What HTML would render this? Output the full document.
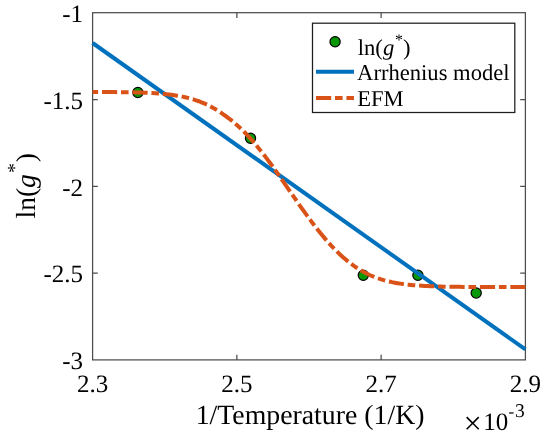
<!DOCTYPE html>
<html><head><meta charset="utf-8"><style>
html,body{margin:0;padding:0;background:#fff;}
svg{display:block;}
text{font-family:"Liberation Serif","Times New Roman",serif;fill:#000;text-rendering:geometricPrecision;}
</style></head><body>
<svg width="550" height="435" viewBox="0 0 550 435">
<rect x="0" y="0" width="550" height="435" fill="#fff"/>
<g stroke="#4d4d4d" stroke-width="1.25" fill="none">
<rect x="92.6" y="12.7" width="432.80" height="347.20"/>
<path d="M236.87 359.9V354.70M236.87 12.7V17.90M381.13 359.9V354.70M381.13 12.7V17.90M92.6 99.50H97.80M525.4 99.50H520.20M92.6 186.30H97.80M525.4 186.30H520.20M92.6 273.10H97.80M525.4 273.10H520.20"/>
</g>
<g fill="#079807" stroke="#000" stroke-width="1.2">
<circle cx="137.9" cy="92.5" r="5.1"/>
<circle cx="250.5" cy="138.3" r="5.1"/>
<circle cx="363.3" cy="275.3" r="5.1"/>
<circle cx="417.9" cy="275.3" r="5.1"/>
<circle cx="476.2" cy="293.0" r="5.1"/>
</g>
<line x1="92.6" y1="43.0" x2="525.4" y2="349.4" stroke="#0072BD" stroke-width="4"/>
<polyline points="92.60,92.03 95.32,92.03 98.04,92.04 100.77,92.05 103.49,92.05 106.21,92.07 108.93,92.08 111.65,92.09 114.38,92.11 117.10,92.14 119.82,92.16 122.54,92.19 125.26,92.23 127.99,92.27 130.71,92.32 133.43,92.37 136.15,92.44 138.87,92.51 141.60,92.60 144.32,92.70 147.04,92.81 149.76,92.94 152.48,93.09 155.21,93.25 157.93,93.45 160.65,93.66 163.37,93.90 166.09,94.18 168.82,94.49 171.54,94.83 174.26,95.22 176.98,95.65 179.70,96.12 182.43,96.65 185.15,97.24 187.87,97.89 190.59,98.61 193.31,99.40 196.04,100.28 198.76,101.24 201.48,102.29 204.20,103.43 206.92,104.68 209.65,106.03 212.37,107.48 215.09,109.04 217.81,110.70 220.53,112.45 223.26,114.30 225.98,116.25 228.70,118.29 231.42,120.43 234.14,122.67 236.87,125.03 239.59,127.49 242.31,130.08 245.03,132.79 247.75,135.62 250.48,138.58 253.20,141.65 255.92,144.85 258.64,148.15 261.36,151.55 264.09,155.05 266.81,158.64 269.53,162.30 272.25,166.03 274.97,169.82 277.70,173.66 280.42,177.55 283.14,181.46 285.86,185.39 288.58,189.34 291.31,193.29 294.03,197.22 296.75,201.14 299.47,205.04 302.19,208.89 304.92,212.70 307.64,216.45 310.36,220.14 313.08,223.75 315.81,227.29 318.53,230.75 321.25,234.11 323.97,237.37 326.69,240.54 329.42,243.60 332.14,246.55 334.86,249.38 337.58,252.10 340.30,254.70 343.03,257.17 345.75,259.53 348.47,261.76 351.19,263.87 353.91,265.85 356.64,267.71 359.36,269.45 362.08,271.07 364.80,272.57 367.52,273.96 370.25,275.24 372.97,276.41 375.69,277.49 378.41,278.47 381.13,279.36 383.86,280.17 386.58,280.90 389.30,281.56 392.02,282.16 394.74,282.69 397.47,283.17 400.19,283.61 402.91,284.00 405.63,284.35 408.35,284.66 411.08,284.94 413.80,285.19 416.52,285.41 419.24,285.61 421.96,285.79 424.69,285.94 427.41,286.08 430.13,286.21 432.85,286.31 435.57,286.41 438.30,286.49 441.02,286.56 443.74,286.63 446.46,286.68 449.18,286.73 451.91,286.77 454.63,286.81 457.35,286.84 460.07,286.86 462.79,286.89 465.52,286.90 468.24,286.92 470.96,286.93 473.68,286.94 476.40,286.95 479.13,286.96 481.85,286.97 484.57,286.97 487.29,286.98 490.01,286.98 492.74,286.99 495.46,286.99 498.18,286.99 500.90,286.99 503.62,286.99 506.35,287.00 509.07,287.00 511.79,287.00 514.51,287.00 517.23,287.00 519.96,287.00 522.68,287.00 525.40,287.00" fill="none" stroke="#D95319" stroke-width="4" stroke-dasharray="15.2 3.8 7.6 3.84" stroke-dashoffset="21.04"/>

<g font-size="25">
<text x="92.60" y="391.8" text-anchor="middle">2.3</text>
<text x="236.87" y="391.8" text-anchor="middle">2.5</text>
<text x="381.13" y="391.8" text-anchor="middle">2.7</text>
<text x="525.40" y="391.8" text-anchor="middle">2.9</text>
<text x="83.1" y="21.90" text-anchor="end">-1</text>
<text x="83.1" y="108.70" text-anchor="end">-1.5</text>
<text x="83.1" y="195.50" text-anchor="end">-2</text>
<text x="83.1" y="282.30" text-anchor="end">-2.5</text>
<text x="83.1" y="369.10" text-anchor="end">-3</text>
</g>
<text x="310.1" y="424.1" font-size="27.8" text-anchor="middle">1/Temperature (1/K)</text>
<text x="463.4" y="433.8" font-size="32.5">×</text>
<text x="483.3" y="429.5" font-size="25">10</text>
<text x="508.6" y="417.1" font-size="17">-</text>
<text x="515.1" y="416.9" font-size="19.5">3</text>
<text transform="translate(35.3,218.5) rotate(-90)" font-size="27.5">ln(<tspan font-style="italic">g</tspan><tspan font-size="20" dx="1.2" dy="-14.5">*</tspan><tspan dx="0.8" dy="14.5">)</tspan></text>
<g>
<rect x="312.5" y="23.2" width="202.3" height="89.3" fill="#fff" stroke="#1e1e1e" stroke-width="1.25"/>
<circle cx="335.1" cy="41.7" r="5.1" fill="#079807" stroke="#000" stroke-width="1.2"/>
<line x1="316" y1="71.8" x2="354" y2="71.8" stroke="#0072BD" stroke-width="4"/>
<line x1="316" y1="98.0" x2="354" y2="98.0" stroke="#D95319" stroke-width="4" stroke-dasharray="15.2 3.8 7.6 3.84"/>
<g font-size="22.6">
<text x="357.8" y="55.0">ln(<tspan font-style="italic">g</tspan><tspan font-size="16" dx="0.8" dy="-10">*</tspan><tspan dy="10">)</tspan></text>
<text x="357.1" y="79.8">Arrhenius model</text>
<text x="357.2" y="105.7">EFM</text>
</g>
</g>
</svg>
</body></html>
